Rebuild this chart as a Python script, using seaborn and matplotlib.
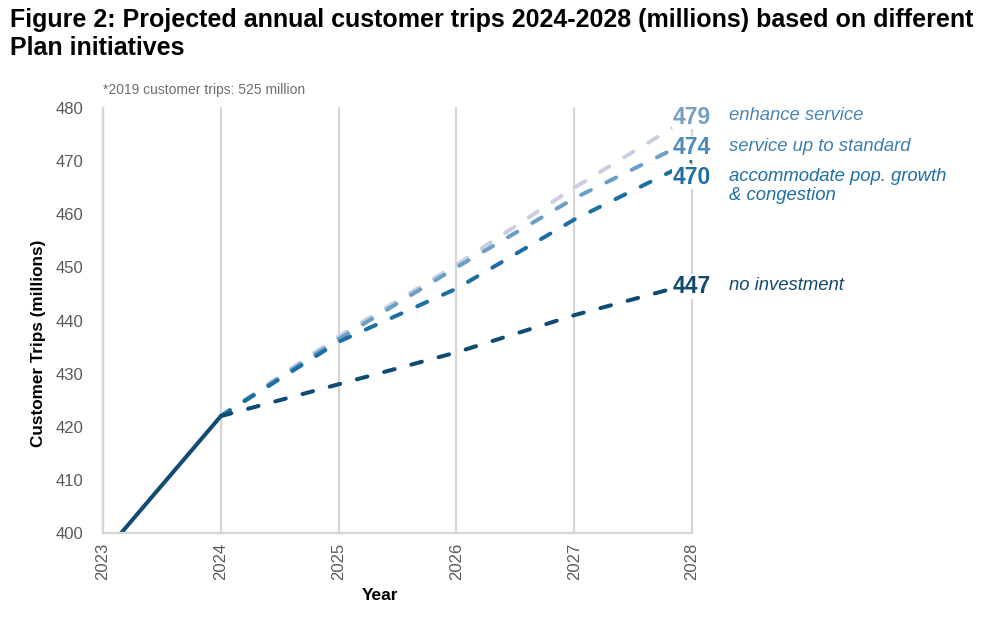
import matplotlib
matplotlib.use("Agg")
import matplotlib.pyplot as plt
import seaborn as sns
import pandas as pd

years = [2023, 2024, 2025, 2026, 2027, 2028]
history_years = [2023, 2024]
history_vals = [396, 422]

proj_years = [2024, 2025, 2026, 2027, 2028]
enhance = [422, 437, 450.5, 465, 478.5]
standard = [422, 436.5, 450, 463, 474]
accommodate = [422, 436, 446, 459, 470]
no_invest = [422, 428, 434, 441, 447]

scenario_names = ["enhance service", "service up to standard",
                  "accommodate pop. growth\n& congestion", "no investment"]
scenario_vals = [enhance, standard, accommodate, no_invest]
end_labels = ["479", "474", "470", "447"]
line_colors = ["#c9cfe1", "#6c9fc6", "#1d6fa3", "#0f4b72"]
num_colors = ["#739fc2", "#4d8cbc", "#1f6ea5", "#134a6f"]
txt_colors = ["#4a86b3", "#3f7fae", "#1f6ea5", "#134a6f"]

sns.set_theme(style="white")
plt.rcParams['font.family'] = ['Liberation Sans', 'DejaVu Sans']

fig = plt.figure(figsize=(9.85, 6.2), dpi=100)
ax = fig.add_axes([0.1046, 0.1403, 0.598, 0.6855])

hist_df = pd.DataFrame({"Year": history_years, "Trips": history_vals})
sns.lineplot(data=hist_df, x="Year", y="Trips", ax=ax, color="#0f4b72",
             linewidth=2.9)

for name, vals, col in zip(scenario_names, scenario_vals, line_colors):
    df = pd.DataFrame({"Year": proj_years, "Trips": vals})
    sns.lineplot(data=df, x="Year", y="Trips", ax=ax, color=col,
                 linewidth=2.9)
    ln = ax.lines[-1]
    ln.set_linestyle((0, (2.7, 4.3)))
    ln.set_dash_capstyle("round")

ax.set_xlim(2023, 2028)
ax.set_ylim(400, 480)
ax.set_xticks(years)
ax.set_xticklabels([str(y) for y in years], rotation=90, fontsize=12, color="#595959")
ax.set_yticks(range(400, 481, 10))
ax.set_yticklabels([str(v) for v in range(400, 481, 10)], fontsize=12, color="#595959")
ax.tick_params(axis="y", length=0, pad=14)
ax.tick_params(axis="x", length=0, pad=7)
ax.grid(axis="x", color="#d6d6d6", linewidth=1.6)
for gl in ax.get_xgridlines():
    gl.set_clip_on(False)
ax.grid(axis="y", visible=False)
for s in ["top", "right"]:
    ax.spines[s].set_visible(False)
for s in ["left", "bottom"]:
    ax.spines[s].set_color("#d6d6d6")
    ax.spines[s].set_linewidth(1.6)
ax.set_axisbelow(True)

ax.set_xlabel("Year", fontsize=12.5, fontweight="bold", color="black")
ax.xaxis.set_label_coords(0.470, -0.130)
ax.set_ylabel("Customer Trips (millions)", fontsize=12.3, fontweight="bold",
              color="black")
ax.yaxis.set_label_coords(-0.097, 0.447)

# end labels
label_y = [478.3, 472.5, 467.0, 446.4]
for lab, name, yv, nc, tc in zip(end_labels, scenario_names, label_y, num_colors, txt_colors):
    ax.text(2028.0, yv, lab, fontsize=16.5, fontweight="bold", color=nc,
            ha="center", va="center", clip_on=False, zorder=5,
            bbox=dict(facecolor="white", edgecolor="none", pad=0.5))
    for i, line in enumerate(name.split("\n")):
        ax.annotate(line, xy=(2028.31, yv + 0.2), xytext=(0, -14 * i),
                    textcoords="offset points", fontsize=13.3, style="italic",
                    color=tc, ha="left", va="center", annotation_clip=False)

fig.text(0.1046, 0.855, "*2019 customer trips: 525 million", fontsize=10,
         color="#6d6d6d", ha="left", va="center")
fig.text(0.0105, 0.9866, "Figure 2: Projected annual customer trips 2024-2028 (millions) based on different\nPlan initiatives",
         fontsize=18.0, fontweight="bold", color="black", ha="left", va="top",
         linespacing=1.22)

fig.savefig("out.png", dpi=100)
